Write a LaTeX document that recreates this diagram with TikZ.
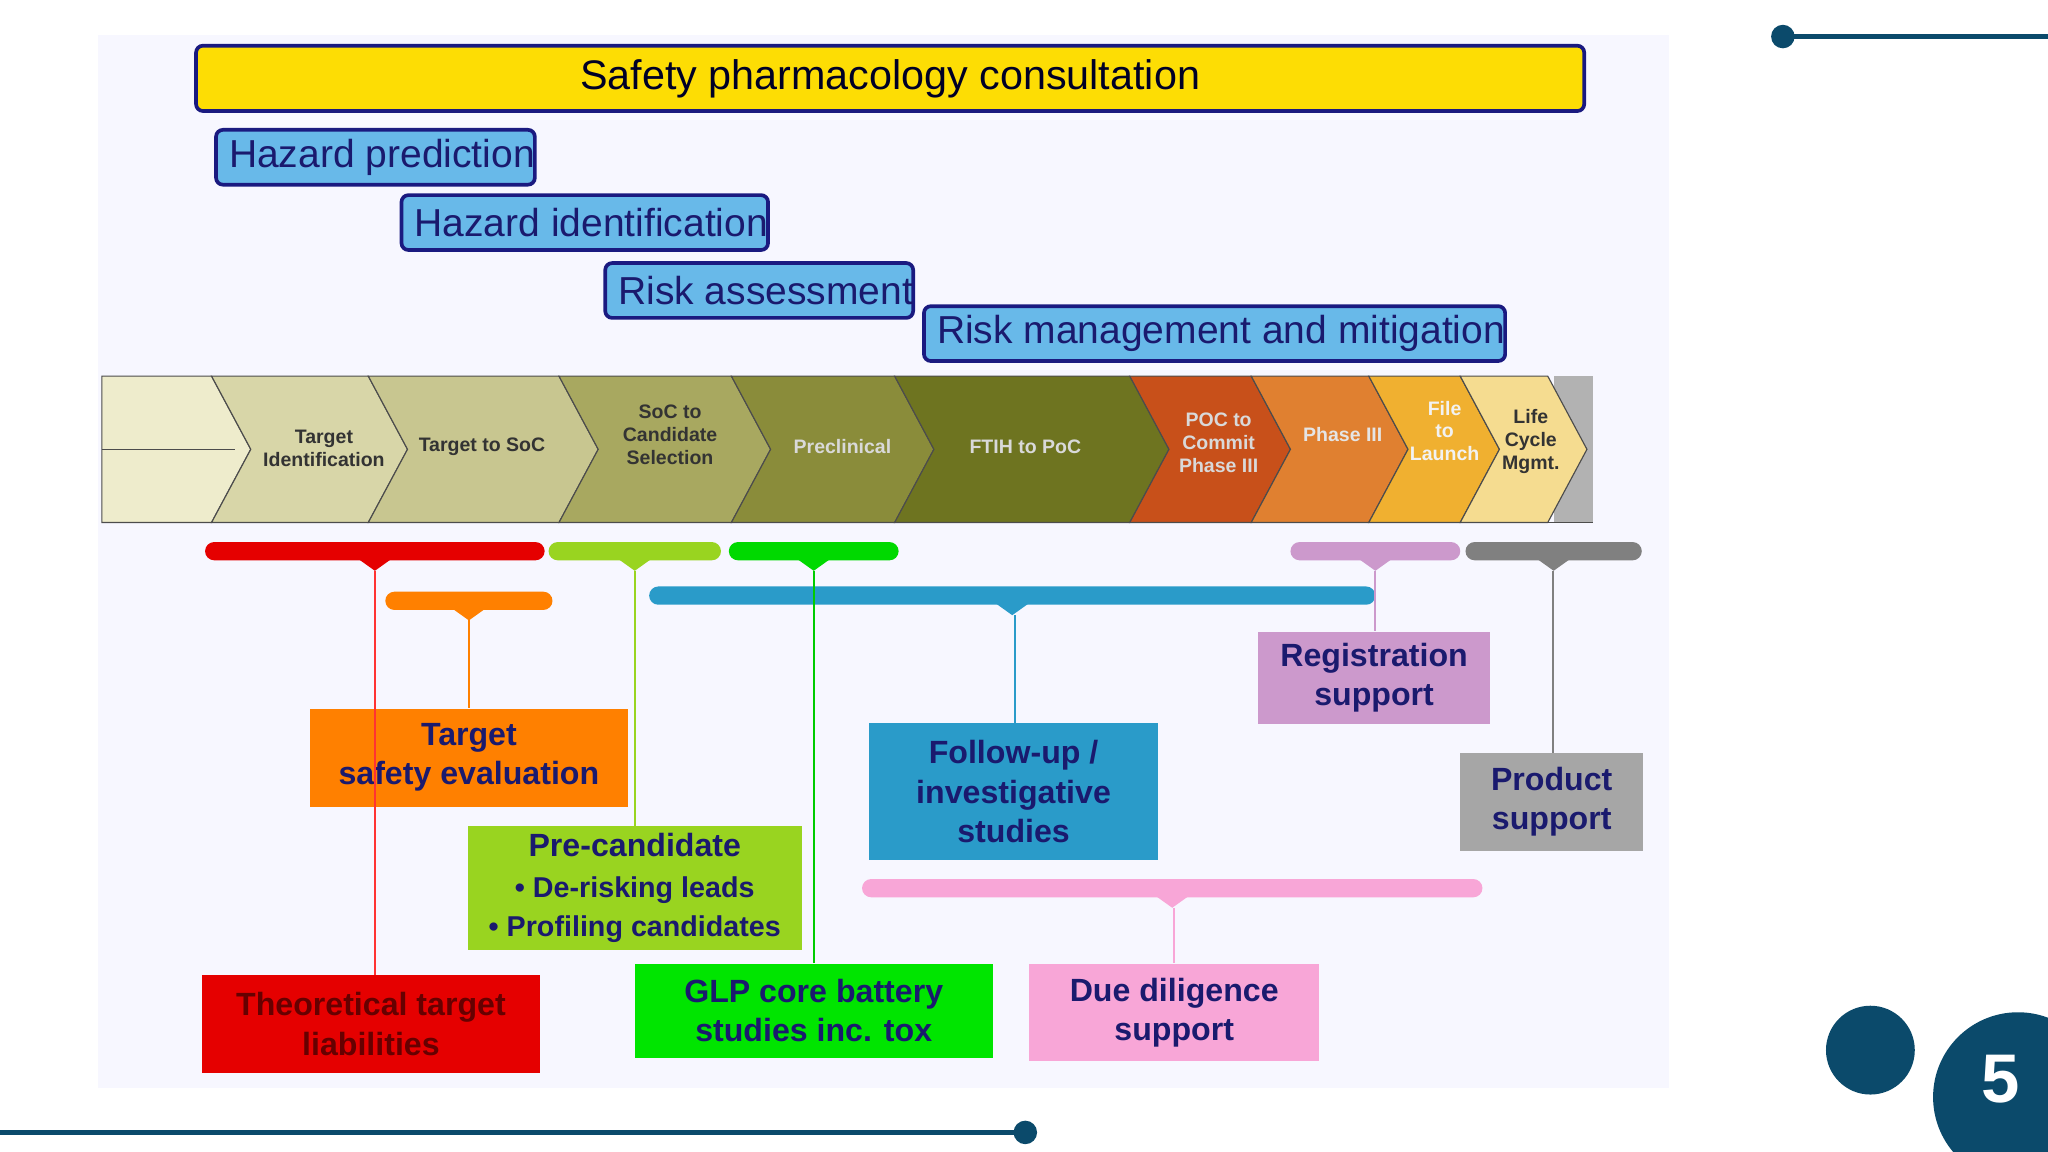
\documentclass[tikz,border=0pt]{standalone}
\usepackage{fontspec}
\setmainfont{Liberation Sans}
\usetikzlibrary{calc}
\definecolor{navy}{HTML}{0B4A6B}
\definecolor{tx}{HTML}{1A1A6E}
\definecolor{bd}{HTML}{1A1A80}
\definecolor{k0}{RGB}{238,236,204}
\definecolor{k1}{RGB}{216,214,168}
\definecolor{k2}{RGB}{200,198,144}
\definecolor{k3}{RGB}{168,168,96}
\definecolor{k4}{RGB}{138,140,58}
\definecolor{k5}{RGB}{110,116,32}
\definecolor{k6}{RGB}{200,80,26}
\definecolor{k7}{RGB}{224,128,48}
\definecolor{k8}{RGB}{240,176,48}
\definecolor{k9}{RGB}{245,220,144}
\tikzset{
 cyanbox/.style={draw=bd,line width=1.6pt,fill=cyan!80!blue!60!white,rounded corners=3pt,text=tx,font=\fontsize{17}{20}\selectfont,anchor=north west,inner sep=0pt,minimum height=0.84cm},
 lbox/.style={text=tx,font=\bfseries\fontsize{14}{17}\selectfont,align=center,inner sep=0pt},
 chev/.style={draw=black!70,line width=0.5pt},
 ctext/.style={font=\bfseries\fontsize{8.5}{10}\selectfont,align=center,inner sep=0pt},
 stem/.style={line width=0.8pt}
}
\begin{document}
\begin{tikzpicture}[x=0.02cm,y=-0.02cm]
\useasboundingbox (0,0) rectangle (1568,882);
\fill[white] (0,0) rectangle (1568,882);
\fill[blue!3!white] (75,27) rectangle (1278,833);
% decorations
\draw[navy,line width=2.5pt] (1365,28) -- (1568,28);
\fill[navy] (1365,28) circle (9);
\draw[navy,line width=2.5pt] (0,867) -- (785,867);
\fill[navy] (785,867) circle (9);
\fill[navy] (1432,804) circle (34);
\fill[navy] (1545,840) circle (65);
\node[white,font=\bfseries\fontsize{30}{32}\selectfont] (num) at (1532,826) {5};
% top bar
\node[draw=bd,line width=1.6pt,fill=yellow!80!orange,rounded corners=3pt,minimum width=21.26cm,minimum height=1cm,font=\fontsize{18}{22}\selectfont,text=black!85!blue] (spc) at (681.5,60) {Safety pharmacology consultation};
\node[cyanbox,minimum width=4.86cm] (hp) at (164,98) {\hspace{0.2cm}Hazard prediction};
\node[cyanbox,minimum width=5.54cm] (hi) at (306,148) {\hspace{0.2cm}Hazard identification};
\node[cyanbox,minimum width=4.68cm] (ra) at (462,200) {\hspace{0.2cm}Risk assessment};
\node[cyanbox,minimum width=8.68cm] (rm) at (706,233) {\hspace{0.2cm}Risk management and mitigation};
% chevron bar
\fill[gray!60] (1190,288) rectangle (1220,400);
\def\chv#1#2#3{\filldraw[chev,fill=#3] (#1,288) -- (#2,288) -- (#2+30,344) -- (#2,400) -- (#1,400) -- (#1+30,344) -- cycle;}
\filldraw[chev,fill=k0] (78,288) -- (162,288) -- (192,344) -- (162,400) -- (78,400) -- cycle;
\draw[chev] (78,344) -- (180,344);
\chv{162}{282}{k1}
\chv{282}{428}{k2}
\chv{428}{560}{k3}
\chv{560}{685}{k4}
\chv{685}{865}{k5}
\chv{865}{958}{k6}
\chv{958}{1048}{k7}
\chv{1048}{1118}{k8}
\chv{1118}{1185}{k9}
\draw[black!70] (78,400) -- (1220,400);
\node[ctext,text=black!80] (c1) at (248,343) {Target\\Identification};
\node[ctext,text=black!80] (c2) at (369,342) {Target to SoC};
\node[ctext,text=black!80] (c3) at (513,333) {SoC to\\Candidate\\Selection};
\node[ctext,text=white!85!black] (c4) at (645,342) {Preclinical};
\node[ctext,text=white!85!black] (c5) at (785,342) {FTIH to PoC};
\node[ctext,text=white!85!black] (c6) at (933,339) {POC to\\Commit\\Phase III};
\node[ctext,text=white!90!black] (c7) at (1028,333) {Phase III};
\node[ctext,text=white!95!black] (c8) at (1106,330) {File\\to\\Launch};
\node[ctext,text=black!80] (c9) at (1172,338) {Life\\Cycle\\Mgmt.};
% brackets
\def\brk#1#2#3#4{\fill[#4,rounded corners=4pt] (#1,#3) rectangle (#2,#3+14); \fill[#4] ({(#1+#2)/2-14},#3+12) -- ({(#1+#2)/2+14},#3+12) -- ({(#1+#2)/2},#3+22) -- cycle;}
\brk{157}{417}{415}{red!90!black}
\brk{295}{423}{453}{orange}
\brk{420}{552}{415}{yellow!60!green}
\brk{558}{688}{415}{green!85!black}
\brk{497}{1053}{449}{cyan!60!teal}
\brk{988}{1118}{415}{violet!40!white}
\brk{1122}{1257}{415}{gray}
\brk{660}{1135}{673}{magenta!35!white}
% boxes
\node[lbox,fill=orange,minimum width=4.88cm,minimum height=1.5cm] (tse) at (359,580) {Target\\safety evaluation};
\node[lbox,fill=yellow!60!green,minimum width=5.12cm,minimum height=1.9cm] (pc) at (486,680) {Pre-candidate\\[1pt]\fontsize{12.5}{15}\selectfont • De-risking leads\hspace{1.45em}\\\fontsize{12.5}{15}\selectfont • Profiling candidates};
\node[lbox,fill=red!90!black,text=red!40!black,minimum width=5.18cm,minimum height=1.5cm] (ttl) at (284,784) {Theoretical target\\liabilities};
\node[lbox,fill=green!90!black,minimum width=5.48cm,minimum height=1.44cm] (glp) at (623,774) {GLP core battery\\studies inc. tox};
\node[lbox,fill=cyan!60!teal,minimum width=4.42cm,minimum height=2.1cm] (fu) at (776,606) {Follow-up /\\investigative\\studies};
\node[lbox,fill=violet!40!white,minimum width=3.54cm,minimum height=1.42cm] (reg) at (1052,519) {Registration\\support};
\node[lbox,fill=gray!70,minimum width=2.8cm,minimum height=1.5cm] (ps) at (1188,614) {Product\\support};
\node[lbox,fill=magenta!35!white,minimum width=4.44cm,minimum height=1.48cm] (dd) at (899,775) {Due diligence\\support};
% stems
\coordinate (sr) at (287,437); \coordinate (so) at (359,475);
\coordinate (sy) at (486,437); \coordinate (sg) at (623,437);
\coordinate (st) at (777,471); \coordinate (sp) at (1053,437);
\coordinate (sgr) at (1189,437); \coordinate (spk) at (899,695);
\draw[stem,red!80] (sr) -- (ttl.north -| sr);
\draw[stem,orange] (so) -- (tse.north -| so);
\draw[stem,yellow!60!green] (sy) -- (pc.north -| sy);
\draw[stem,green!80!black] (sg) -- (glp.north -| sg);
\draw[stem,cyan!60!teal] (st) -- (fu.north -| st);
\draw[stem,violet!40] (sp) -- (reg.north -| sp);
\draw[stem,gray] (sgr) -- (ps.north -| sgr);
\draw[stem,magenta!35] (spk) -- (dd.north -| spk);
\end{tikzpicture}
\end{document}
